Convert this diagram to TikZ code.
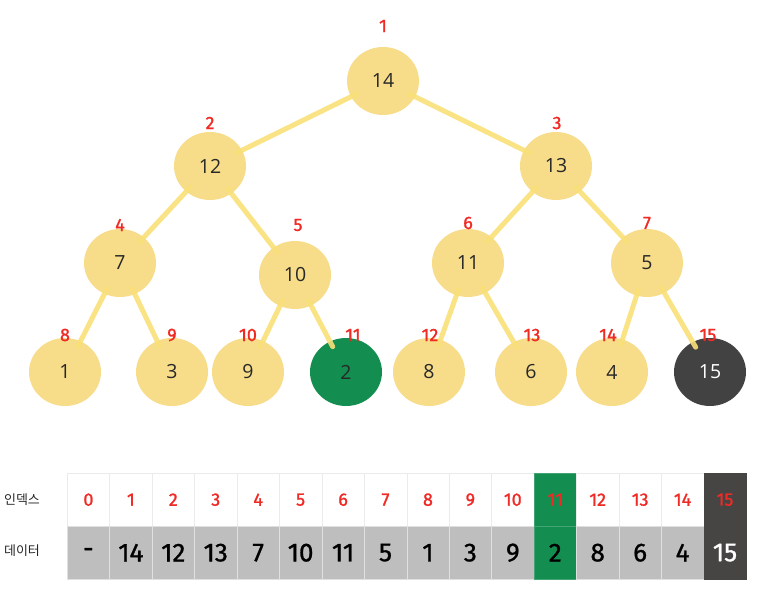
\documentclass[tikz,border=0pt]{standalone}
\usepackage{fontspec}
\setmainfont{Open Sans}
\newfontfamily\krfont{Noto Sans CJK KR}
\newfontfamily\handfont[FakeBold=1.2]{Fira Sans}
\newfontfamily\datafont[FakeBold=1]{Fira Sans}
\usetikzlibrary{shapes.geometric}
\definecolor{heapyellow}{RGB}{247,220,137}
\definecolor{edgeyellow}{RGB}{249,224,120}
\definecolor{idxred}{RGB}{240,42,36}
\definecolor{selgreen}{RGB}{19,141,80}
\definecolor{darkcell}{RGB}{70,69,68}
\definecolor{darknode}{RGB}{66,66,66}
\definecolor{datagrey}{RGB}{190,190,190}
\definecolor{nodetext}{RGB}{40,40,40}
\tikzset{
  heapnode/.style={ellipse, minimum width=72pt, minimum height=68pt, inner sep=0pt,
    fill=heapyellow, text=nodetext, font=\fontsize{19.5}{19.5}\selectfont},
  greennode/.style={heapnode, fill=selgreen},
  blacknode/.style={heapnode, fill=darknode, text=white},
  idxlabel/.style={text=idxred, inner sep=0pt, font=\handfont\fontsize{18}{18}\selectfont},
  heapedge/.style={draw=edgeyellow, line width=5pt, line cap=round, opacity=0.9,
    shorten <=-6pt, shorten >=-6pt},
  cellbase/.style={minimum width=42.44pt, minimum height=53pt, inner sep=0pt, anchor=north west},
  indexcell/.style={cellbase, draw=black!8, fill=white, text=idxred,
    font=\handfont\fontsize{18}{18}\selectfont},
  datacell/.style={cellbase, draw=black!12, fill=datagrey, text=black,
    font=\datafont\fontsize{26}{26}\selectfont},
  rowlabel/.style={inner sep=0pt, text=black!85, font=\krfont\fontsize{13}{13}\selectfont}
}
\begin{document}
\begin{tikzpicture}[x=1pt,y=-1pt]
\useasboundingbox (0,0) rectangle (760,596);
% tree nodes
\node[heapnode] (n1) at (383,81) {14};
\node[heapnode] (n2) at (210,166) {12};
\node[heapnode] (n3) at (556,166) {13};
\node[heapnode] (n4) at (120,263) {7};
\node[heapnode] (n5) at (295,275) {10};
\node[heapnode] (n6) at (468,263) {11};
\node[heapnode] (n7) at (647,263) {5};
\node[heapnode] (n8) at (65,372) {1};
\node[heapnode] (n9) at (172,372) {3};
\node[heapnode] (n10) at (248,372) {9};
\node[greennode] (n11) at (346,372) {2};
\node[heapnode] (n12) at (429,372) {8};
\node[heapnode] (n13) at (531,372) {6};
\node[heapnode] (n14) at (612,372) {4};
\node[blacknode] (n15) at (710,372) {15};
% edges
\draw[heapedge] (n1) -- (n2);
\draw[heapedge] (n1) -- (n3);
\draw[heapedge] (n2) -- (n4);
\draw[heapedge] (n2) -- (n5);
\draw[heapedge] (n3) -- (n6);
\draw[heapedge] (n3) -- (n7);
\draw[heapedge] (n4) -- (n8);
\draw[heapedge] (n4) -- (n9);
\draw[heapedge] (n5) -- (n10);
\draw[heapedge] (n5) -- (n11);
\draw[heapedge] (n6) -- (n12);
\draw[heapedge] (n6) -- (n13);
\draw[heapedge] (n7) -- (n14);
\draw[heapedge] (n7) -- (n15);
% index labels
\node[idxlabel] (l1) at (383,26) {1};
\node[idxlabel] (l2) at (210,123) {2};
\node[idxlabel] (l3) at (557,123) {3};
\node[idxlabel] (l4) at (120,225) {4};
\node[idxlabel] (l5) at (298,225) {5};
\node[idxlabel] (l6) at (468,223) {6};
\node[idxlabel] (l7) at (647,223) {7};
\node[idxlabel] (l8) at (65,335) {8};
\node[idxlabel] (l9) at (172,335) {9};
\node[idxlabel] (l10) at (248,335) {10};
\node[idxlabel] (l11) at (353,335) {11};
\node[idxlabel] (l12) at (430,335) {12};
\node[idxlabel] (l13) at (532,335) {13};
\node[idxlabel] (l14) at (608,335) {14};
\node[idxlabel] (l15) at (708,335) {15};
% table
\node[rowlabel] (rowidx) at (22,500) {인덱스};
\node[rowlabel] (rowdata) at (22,551) {데이터};
\foreach \d [count=\c from 0] in {-,14,12,13,7,10,11,5,1,3,9,2,8,6,4,15} {
  \ifnum\c=11
    \node[indexcell, fill=selgreen, draw=selgreen!80!white] (i\c) at ({67+42.44*\c},473) {\c};
    \node[datacell, fill=selgreen, draw=selgreen!80!white] (d\c) at ({67+42.44*\c},526) {\d};
  \else\ifnum\c=15
    \node[indexcell, fill=darkcell, draw=darkcell] (i\c) at ({67+42.44*\c},473) {\c};
    \node[datacell, fill=darkcell, draw=darkcell, text=white] (d\c) at ({67+42.44*\c},526) {\d};
  \else
    \node[indexcell] (i\c) at ({67+42.44*\c},473) {\c};
    \node[datacell] (d\c) at ({67+42.44*\c},526) {\d};
  \fi\fi
}
\end{tikzpicture}
\end{document}
